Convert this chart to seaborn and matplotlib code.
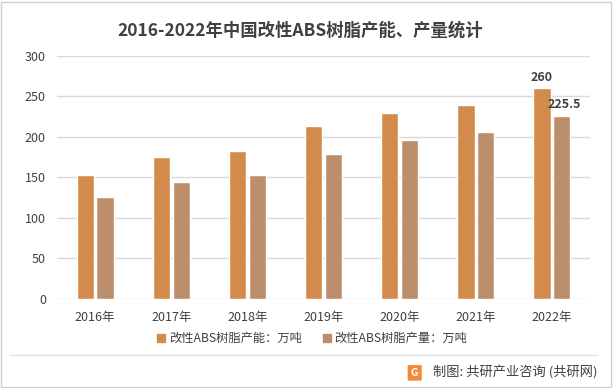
import numpy as np
import pandas as pd
import seaborn as sns
import matplotlib
matplotlib.use('Agg')
import matplotlib.pyplot as plt
from matplotlib.patches import Rectangle, FancyBboxPatch
from matplotlib.lines import Line2D

# 数据
years = ['2016年', '2017年', '2018年', '2019年', '2020年', '2021年', '2022年']
capacity = [153, 175, 183, 213, 230, 239, 260]
production = [126, 144, 153, 179, 196, 206, 225.5]
series_names = ['改性ABS树脂产能：万吨', '改性ABS树脂产量：万吨']
colors = ['#D38B4D', '#BC8E6C']

sns.set_theme(style='white')
plt.rcParams['font.family'] = ['Noto Sans CJK SC', 'DejaVu Sans']
plt.rcParams['axes.unicode_minus'] = False

df = pd.DataFrame({
    'year': years * 2,
    'value': capacity + production,
    'series': [series_names[0]] * len(years) + [series_names[1]] * len(years),
})

fig = plt.figure(figsize=(6.13, 3.88), dpi=100)
ax = fig.add_axes([0.093, 0.2294, 0.8695, 0.6263])

sns.barplot(data=df, x='year', y='value', hue='series', palette=colors,
            width=0.52, gap=0.13, saturation=1, ax=ax, legend=False)

ax.set_ylim(0, 300)
ax.set_yticks(range(0, 301, 50))
ax.set_xlim(-0.5, len(years) - 0.5)
ax.yaxis.grid(True, color='#D9D9D9', linewidth=1)
ax.set_axisbelow(True)
for s in ax.spines.values():
    s.set_visible(False)
ax.set_xlabel('')
ax.set_ylabel('')
ax.tick_params(axis='both', length=0, labelsize=9, colors='#404040')
ax.tick_params(axis='y', pad=8)
ax.tick_params(axis='x', pad=9)

# 2022年数据标签
cap_bar = ax.containers[0][-1]
prod_bar = ax.containers[1][-1]
ax.text(cap_bar.get_x() + cap_bar.get_width() / 2, capacity[-1] + 6, '260',
        ha='center', va='bottom', fontsize=9, color='#404040', fontweight='bold')
ax.text(prod_bar.get_x() + prod_bar.get_width() / 2 + 0.03, production[-1] + 6, '225.5',
        ha='center', va='bottom', fontsize=9, color='#404040', fontweight='bold')

# 标题
fig.text(0.49, 0.922, '2016-2022年中国改性ABS树脂产能、产量统计', ha='center', va='center',
         fontsize=12.5, fontweight='bold', color='#404040')

# 图例
handles = [Line2D([], [], marker='s', linestyle='', markersize=5.5, color=c) for c in colors]
fig.legend(handles, series_names, loc='center', bbox_to_anchor=(0.507, 0.128), ncol=2,
           frameon=False, fontsize=8.8, handletextpad=0.05, columnspacing=1.4,
           handlelength=1.2, labelcolor='#404040')

# 分隔线与来源
fig.add_artist(Line2D([0.015, 0.975], [0.085, 0.085], color='#E3E3E3', linewidth=1,
                      transform=fig.transFigure))
fig.text(0.975, 0.04, '制图: 共研产业咨询 (共研网)', ha='right', va='center',
         fontsize=9.5, color='#404040')
fig.add_artist(FancyBboxPatch((0.666, 0.02), 0.021, 0.038,
                              boxstyle='round,pad=0.001', facecolor='#F08A3C',
                              edgecolor='none', transform=fig.transFigure))
fig.text(0.6765, 0.039, 'G', ha='center', va='center', fontsize=7.5, color='white',
         fontweight='bold')

# 外框
fig.add_artist(Rectangle((0.002, 0.003), 0.995, 0.993, fill=False,
                         edgecolor='#D0D0D0', linewidth=1, transform=fig.transFigure))

fig.savefig('out.png', dpi=100)
